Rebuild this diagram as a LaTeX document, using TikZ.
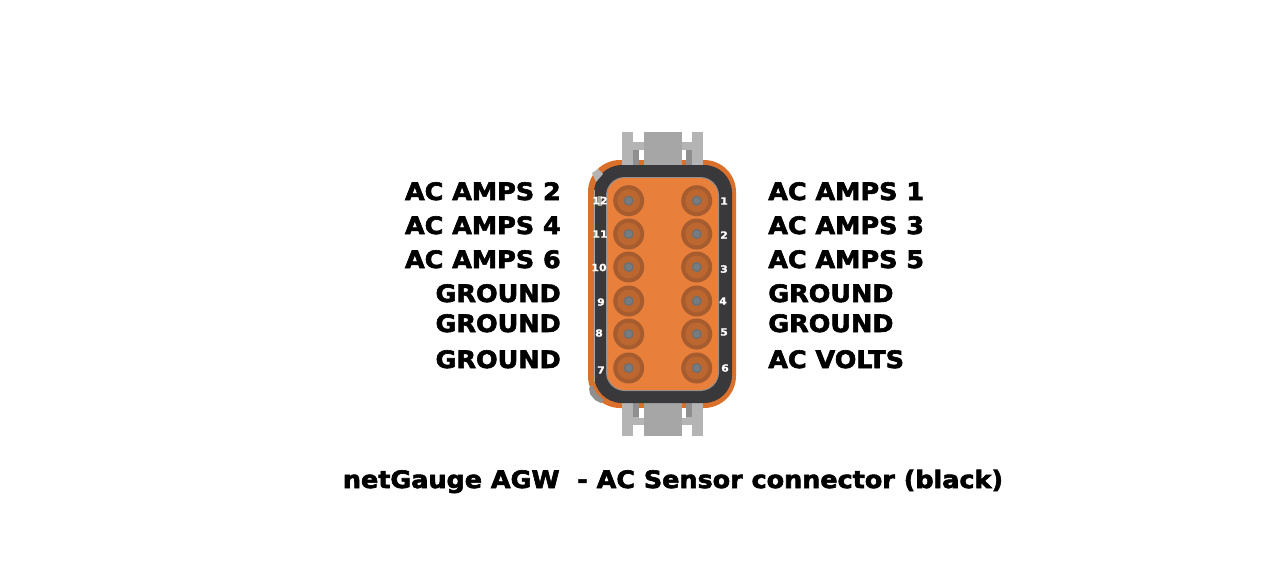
\documentclass[tikz,border=0pt]{standalone}
\usepackage{fontspec}
\newfontfamily\lblfont[FakeStretch=1.06,FakeBold=2.5]{DejaVu Sans Bold}
\newfontfamily\numfont[FakeStretch=1.1,FakeBold=1]{DejaVu Sans Bold}
\definecolor{orangeA}{HTML}{E8803C}
\definecolor{orangeB}{HTML}{D9702C}
\definecolor{ringdark}{HTML}{39383A}
\definecolor{holeA}{HTML}{A65C2E}
\definecolor{holeB}{HTML}{BC6630}
\definecolor{pinA}{HTML}{6B7074}
\definecolor{pinB}{HTML}{777C80}
\definecolor{greyA}{HTML}{A6A6A6}
\definecolor{greyB}{HTML}{8F8F8F}
\definecolor{greyC}{HTML}{B4B4B4}
\tikzset{
  lbl/.style={font=\lblfont\fontsize{18pt}{20pt}\selectfont,text=black,inner sep=0pt},
  lblL/.style={lbl,anchor=base east},
  lblR/.style={lbl,anchor=base west},
  titlelbl/.style={lbl,anchor=base},
  pinnum/.style={font=\numfont\fontsize{7.5pt}{9pt}\selectfont,text=white,inner sep=0pt,anchor=center},
}
\newcommand{\cavity}[2]{%
  \fill[holeA] (#1,#2) circle (15.5);
  \fill[holeB] (#1,#2) circle (11.5);
  \fill[pinA] (#1,#2) circle (5);
  \fill[pinB] (#1,#2) circle (3.5);
}
% #1 outer y, #2 bar y1, #3 bar y2, #4 window y1, #5 window y2, #6 base y
\newcommand{\latch}[6]{%
  \fill[greyC] (633,#2) rectangle (692,#3);
  \fill[greyB] (633,#3) rectangle (639,#6);
  \fill[greyB] (686,#3) rectangle (692,#6);
  \fill[white] (639,#4) rectangle (644,#5);
  \fill[white] (681,#4) rectangle (686,#5);
  \fill[greyC] (622,#1) rectangle (633,#6);
  \fill[greyC] (692,#1) rectangle (703,#6);
  \fill[greyA] (644,#1) rectangle (682,#6);
}
\begin{document}
\begin{tikzpicture}[x=0.75pt,y=-0.75pt]
\useasboundingbox (0,0) rectangle (1280,569);
\fill[white] (0,0) rectangle (1280,569);
\fill[orangeB,rounded corners=24pt] (588,160) rectangle (736,408);
\latch{132}{142}{150}{152}{160}{167}
\latch{436}{425}{417}{418}{408}{401}
\fill[ringdark,rounded corners=21pt] (594,165) rectangle (732,403);
\fill[greyB,rounded corners=14pt] (606,177) rectangle (719,391);
\fill[orangeA,rounded corners=13.5pt] (607,178) rectangle (718,390);
\fill[greyA] (593.5,190) rectangle (595,382);
\fill[greyA] (598,196) rectangle (602,206);
\fill[greyC] (592,173) -- (598,169) -- (603,174) -- (596,182) -- cycle;
\fill[greyB] (589,388) -- (592,385) -- (596,393) -- (604,400) -- (601,403) -- (595,400) -- (590,394) -- cycle;
\foreach \y in {200.7,234,267,301,334,368}{\cavity{628.7}{\y}\cavity{696.7}{\y}}
\node[pinnum] (n12) at (600,200.5) {12};
\node[pinnum] (n11) at (600,234) {11};
\node[pinnum] (n10) at (599,267.5) {10};
\node[pinnum] (n9) at (601,302) {9};
\node[pinnum] (n8) at (599,333) {8};
\node[pinnum] (n7) at (601,370) {7};
\node[pinnum] (n1) at (724,201) {1};
\node[pinnum] (n2) at (724,235) {2};
\node[pinnum] (n3) at (724,269) {3};
\node[pinnum] (n4) at (723,301) {4};
\node[pinnum] (n5) at (724,332) {5};
\node[pinnum] (n6) at (725,368) {6};
\node[lblL] (l2) at (561,200) {AC AMPS 2};
\node[lblL] (l4) at (561,234) {AC AMPS 4};
\node[lblL] (l6) at (561,268) {AC AMPS 6};
\node[lblL] (lg1) at (561,302) {GROUND};
\node[lblL] (lg2) at (561,332) {GROUND};
\node[lblL] (lg3) at (561,368) {GROUND};
\node[lblR] (r1) at (768,200) {AC AMPS 1};
\node[lblR] (r3) at (768,234) {AC AMPS 3};
\node[lblR] (r5) at (768,268) {AC AMPS 5};
\node[lblR] (rg1) at (768,302) {GROUND};
\node[lblR] (rg2) at (768,332) {GROUND};
\node[lblR] (rv) at (768,368) {AC VOLTS};
\node[titlelbl] (title) at (673,488) {netGauge AGW\ \ - AC Sensor connector (black)};
\end{tikzpicture}
\end{document}
